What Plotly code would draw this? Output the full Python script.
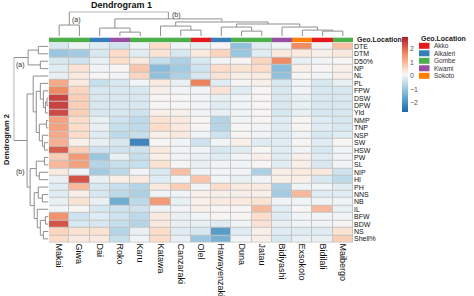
import plotly.graph_objects as go

W, H = 474, 296

# ---------------- data ----------------
columns = ["Makai", "Giwa", "Dai", "Roko", "Karu", "Katawa", "Canzaraki", "Olel",
           "Hawayenzaki", "Duna", "Jatau", "Bidiyashi", "Exsokoto", "Bidilali", "Maibergo"]
col_location = ["Gombe", "Gombe", "Alkaleri", "Kwami", "Gombe", "Gombe", "Gombe", "Akko",
                "Alkaleri", "Gombe", "Gombe", "Kwami", "Sokoto", "Akko", "Gombe"]
rows = ["DTE", "DTM", "D50%", "NP", "NL", "PL", "FPW", "DSW", "DPW", "Yld", "NMP", "TNP",
        "NSP", "SW", "HSW", "PW", "SL", "NIP", "HI", "PH", "NNS", "NB", "IL", "BFW", "BDW",
        "NS", "Shell%"]

v_DTE = [-0.3, 0.0, -0.2, -0.4, 0.0, 0.5, 0.0, -0.1, 0.1, -1.1, -0.2, 0.0, 1.6, 0.0, 0.9]
v_DTM = [-1.0, -0.9, -0.3, 0.5, -0.2, 0.4, -0.3, 0.3, 0.6, -1.0, -0.2, 0.3, 0.3, 0.2, 0.3]
v_D50 = [-0.3, -0.4, -0.1, 0.5, 0.3, -0.5, -0.8, -0.3, 0.0, 0.1, 0.6, 1.6, -0.1, 0.0, 0.1]
v_NP = [-0.2, 0.4, 0.0, 0.1, 0.8, -1.2, -0.9, -0.4, 0.5, 0.4, 0.5, -1.2, 0.2, 0.1, 0.2]
v_NL = [-0.1, 0.3, 0.1, 0.0, 0.6, -1.1, -0.8, -0.3, 0.4, 0.2, 0.3, -1.1, 0.1, 0.0, 0.2]
v_PL = [1.2, 0.3, -0.5, -0.3, 0.0, 0.3, -0.1, 1.7, -0.2, 0.1, 0.2, -0.3, 0.0, -0.3, -0.1]
v_FPW = [1.6, 0.6, -0.3, -0.3, -0.3, 0.2, 0.0, 0.0, 0.4, -0.2, 0.1, -0.3, 0.0, -0.3, -0.3]
v_DSW = [2.4, 0.7, -0.3, -0.3, -0.3, 0.1, 0.1, 0.0, -0.1, 0.0, 0.1, -0.3, -0.1, -0.3, -0.3]
v_DPW = [2.4, 0.7, -0.3, -0.3, -0.3, 0.1, 0.1, 0.0, -0.2, 0.0, 0.1, -0.3, -0.1, -0.3, -0.3]
v_Yld = [2.3, 0.7, -0.3, -0.3, -0.4, 0.2, 0.2, 0.0, -0.1, 0.0, 0.1, -0.3, -0.1, -0.3, -0.3]
v_NMP = [1.3, 0.5, -0.1, -0.4, -0.6, 0.4, 0.3, 0.1, -0.7, 0.0, 0.1, -0.2, 0.1, -0.2, -0.3]
v_TNP = [1.3, 0.5, -0.1, -0.5, -0.6, 0.5, 0.3, 0.1, -0.7, 0.1, 0.0, -0.2, 0.1, -0.2, -0.3]
v_NSP = [1.2, 0.5, -0.2, -0.6, -0.5, 0.2, 0.3, 0.0, -0.4, 0.1, 0.0, -0.2, 0.0, -0.3, -0.2]
v_SW = [1.1, 0.2, -0.1, -0.3, -2.2, 0.1, 0.0, -0.4, 0.0, 0.2, -0.2, -0.2, 0.1, -0.2, 0.1]
v_HSW = [2.1, 0.7, -0.4, -0.4, -0.4, 0.3, 0.0, 0.0, -0.3, -0.2, 0.1, -0.2, 0.0, -0.3, 0.0]
v_PW = [0.7, 1.4, -1.0, -0.1, -0.5, 0.2, 0.0, -0.1, -0.2, 0.0, 0.2, -0.2, 0.2, -0.2, 0.0]
v_SL = [1.0, 1.3, -0.7, -0.5, -0.5, 0.4, 0.1, -0.1, 0.0, 0.0, 0.1, -0.2, 0.2, -0.3, 0.0]
v_NIP = [0.3, 0.0, -0.9, -0.6, 0.0, -0.3, 0.9, 0.0, 0.0, 0.0, -0.8, 0.2, 0.3, 0.3, -0.4]
v_HI = [-0.1, 2.2, -0.1, 0.2, 0.3, -0.2, 0.0, 0.8, 0.0, -0.1, 0.0, 0.2, 0.2, -0.3, -0.6]
v_PH = [-0.2, 1.0, -0.3, -0.5, -0.7, 0.3, 0.7, 0.0, 0.5, 0.3, 0.3, -0.8, 0.0, 0.0, -0.2]
v_NNS = [-0.2, 0.2, -0.3, -0.6, -0.8, 0.0, 0.0, 0.2, 0.2, 0.2, 0.2, -0.9, 1.0, -0.2, -0.2]
v_NB = [-0.1, 0.4, -0.1, -1.5, -0.6, 1.4, -0.1, 0.2, 0.3, 0.3, 0.4, 0.0, 0.0, 0.0, 0.0]
v_IL = [0.0, 0.1, -0.3, -0.4, -0.4, 0.0, 0.0, 0.2, 0.1, 0.1, 1.0, -0.2, 0.1, 1.0, -0.1]
v_BFW = [1.5, -0.4, -0.2, -0.4, -0.6, 0.3, -0.1, 0.0, 0.1, 0.1, 0.5, -0.2, 0.0, 0.0, 0.0]
v_BDW = [2.2, -0.3, -0.3, -0.5, -0.7, 0.3, -0.1, -0.1, -0.2, 0.0, 0.4, -0.1, 0.0, 0.0, 0.1]
v_NS = [0.6, 0.4, 0.4, -0.7, -0.1, 0.5, -0.2, -0.3, -1.8, -0.2, 0.2, -0.2, -0.2, -0.2, 0.4]
v_Shell = [0.5, 0.3, 0.3, -0.5, 0.0, 0.5, -0.1, -1.0, -1.4, 0.0, 0.2, -0.3, -0.1, -0.1, 0.7]

Z = [v_DTE, v_DTM, v_D50, v_NP, v_NL, v_PL, v_FPW, v_DSW, v_DPW, v_Yld, v_NMP, v_TNP,
     v_NSP, v_SW, v_HSW, v_PW, v_SL, v_NIP, v_HI, v_PH, v_NNS, v_NB, v_IL, v_BFW, v_BDW,
     v_NS, v_Shell]

geo_names = ["Akko", "Alkaleri", "Gombe", "Kwami", "Sokoto"]
geo_colors = ["#e41a1c", "#377eb8", "#4daf4a", "#984ea3", "#ff7f00"]

colorbar_ticks = [-2, -1, 0, 1, 2]

# dendrogram trees: [left, right, merge height]
col_tree = [["Makai", "Giwa", 11],
            [["Dai", ["Roko", "Karu", 4], 8],
             [["Katawa", ["Canzaraki", "Olel", 6], 10],
              [["Hawayenzaki", ["Duna", "Jatau", 5], 9],
               ["Bidiyashi", ["Exsokoto", ["Bidilali", "Maibergo", 5], 6], 9], 12], 14], 17], 24]

row_tree = [[["DTE", "DTM", 10], ["D50%", "NP", 8], 20],
            [["NL", [["PL", ["FPW", [["DSW", "DPW", 1.5], "Yld", 3], 5], 8],
                     [["NMP", "TNP", 2], ["NSP", ["SW", "HSW", 4], 6], 9], 12], 15],
             [[["PW", "SL", 4], ["NIP", "HI", 9], 12],
              [["PH", ["NNS", "NB", 6], 10],
               ["IL", [["BFW", "BDW", 3], ["NS", "Shell%", 5], 8], 11], 14], 18], 21], 34]


# ---------------- helpers ----------------
def px(p):
    return p / W


def py(p):
    return 1 - p / H


def dendro_segments(node, index):
    """return (position, height, list of U-shapes) for a nested merge tree"""
    if not isinstance(node, list):
        return index[node], 0.0, []
    lp, lh, ls = dendro_segments(node[0], index)
    rp, rh, rs = dendro_segments(node[1], index)
    h = node[2]
    seg = ([lp, lp, rp, rp], [lh, h, h, rh])
    return (lp + rp) / 2.0, h, ls + rs + [seg]


col_index = {n: i for i, n in enumerate(columns)}
row_index = {n: i for i, n in enumerate(rows)}

_, _, col_segs = dendro_segments(col_tree, col_index)
_, _, row_segs = dendro_segments(row_tree, row_index)

cx, cy = [], []
for p, h in col_segs:
    cx += p + [None]
    cy += h + [None]
rx, ry = [], []
for p, h in row_segs:
    rx += h + [None]
    ry += p + [None]

colorscale = [[0.0, "#2166ac"], [0.2, "#67a9cf"], [0.42, "#d1e5f0"], [0.5, "#f7f7f7"],
              [0.58, "#fddbc7"], [0.78, "#ef8a62"], [1.0, "#b2182b"]]

geo_code = [geo_names.index(g) for g in col_location]
n = len(geo_names)
geo_scale = []
for i, c in enumerate(geo_colors):
    geo_scale.append([i / n, c])
    geo_scale.append([(i + 1) / n, c])

FONT = "Liberation Sans, Arial, sans-serif"

fig = go.Figure()

fig.add_trace(go.Heatmap(
    z=Z, x=list(range(len(columns))), y=list(range(len(rows))),
    colorscale=colorscale, zmin=-2.7, zmax=2.85, xgap=1, ygap=1,
    xaxis="x", yaxis="y", hoverinfo="skip",
    colorbar=dict(x=px(401.5), xanchor="left", y=py(37.3), yanchor="top",
                  len=75.4 / H, lenmode="fraction", thickness=6, outlinewidth=0,
                  xpad=0, ypad=0, tickvals=colorbar_ticks, ticks="",
                  tickfont=dict(size=7, color="#555555", family=FONT)),
))

fig.add_trace(go.Heatmap(
    z=[geo_code], x=list(range(len(columns))), y=[0],
    colorscale=geo_scale, zmin=-0.5, zmax=n - 0.5, showscale=False,
    xaxis="x", yaxis="y2", hoverinfo="skip",
))

fig.add_trace(go.Scatter(x=cx, y=cy, mode="lines", line=dict(color="#8f8f8f", width=1),
                         xaxis="x", yaxis="y3", hoverinfo="skip", showlegend=False))
fig.add_trace(go.Scatter(x=rx, y=ry, mode="lines", line=dict(color="#8f8f8f", width=1),
                         xaxis="x4", yaxis="y", hoverinfo="skip", showlegend=False))

shapes = [dict(type="rect", xref="x", yref="y", x0=-0.53, x1=len(columns) - 0.47,
               y0=-0.6, y1=len(rows) - 0.4, fillcolor="#c4c4c4",
               line=dict(width=0), layer="below")]
annotations = []

# legend for locations
for i, (name, col) in enumerate(zip(geo_names, geo_colors)):
    top = 42.8 + 7.5 * i
    shapes.append(dict(type="rect", xref="paper", yref="paper", x0=px(419), x1=px(429.5),
                       y0=py(top + 6), y1=py(top), fillcolor=col, line=dict(width=0)))
    annotations.append(dict(text=name, xref="paper", yref="paper", x=px(432), y=py(top + 3),
                            xanchor="left", yanchor="middle", showarrow=False,
                            font=dict(size=6.5, color="#333333", family=FONT)))
annotations.append(dict(text="<b>Geo.Location</b>", xref="paper", yref="paper", x=px(418.5),
                        y=py(38.5), xanchor="left", yanchor="middle", showarrow=False,
                        font=dict(size=7, color="#222222", family=FONT)))
annotations.append(dict(text="<b>Geo.Location</b>", xref="paper", yref="paper", x=px(355),
                        y=py(39.2), xanchor="left", yanchor="middle", showarrow=False,
                        font=dict(size=7, color="#222222", family=FONT)))
annotations.append(dict(text="<b>Dendrogram 1</b>", xref="paper", yref="paper", x=px(121),
                        y=py(5.5), xanchor="center", yanchor="middle", showarrow=False,
                        font=dict(size=9, color="#111111", family=FONT)))
annotations.append(dict(text="<b>Dendrogram 2</b>", xref="paper", yref="paper", x=px(6),
                        y=py(140), xanchor="center", yanchor="middle", showarrow=False,
                        textangle=-90, font=dict(size=7.5, color="#111111", family=FONT)))
for t, xx, yy in [("(a)", 76.5, 20), ("(b)", 176.5, 15), ("(a)", 20, 65), ("(b)", 20, 172)]:
    annotations.append(dict(text=t, xref="paper", yref="paper", x=px(xx), y=py(yy),
                            xanchor="center", yanchor="middle", showarrow=False,
                            font=dict(size=7, color="#333333", family=FONT)))

fig.update_layout(
    width=W, height=H, margin=dict(l=0, r=0, t=0, b=0, autoexpand=False),
    paper_bgcolor="white", plot_bgcolor="rgba(0,0,0,0)", showlegend=False,
    font=dict(family=FONT),
    xaxis=dict(domain=[px(49), px(353)], range=[-0.5, len(columns) - 0.5], anchor="y",
               tickvals=list(range(len(columns))), ticktext=columns, tickangle=90,
               showgrid=False, zeroline=False, ticks="", showline=False, automargin=False,
               tickfont=dict(size=9, color="#111111", family=FONT)),
    yaxis=dict(domain=[py(242.6), py(42.7)], range=[len(rows) - 0.5, -0.5], anchor="x",
               tickvals=list(range(len(rows))), ticktext=rows, side="right",
               showgrid=False, zeroline=False, ticks="", showline=False, automargin=False,
               tickfont=dict(size=7, color="#111111", family=FONT)),
    yaxis2=dict(domain=[py(42.2), py(37.4)], range=[-0.5, 0.5], anchor="x", visible=False),
    yaxis3=dict(domain=[py(36.2), py(11.5)], range=[0, 24.3], anchor="x", visible=False),
    xaxis4=dict(domain=[px(13.5), px(48.5)], range=[34.3, 0], anchor="y", visible=False),
    shapes=shapes, annotations=annotations,
)

fig.write_html("out.html")
